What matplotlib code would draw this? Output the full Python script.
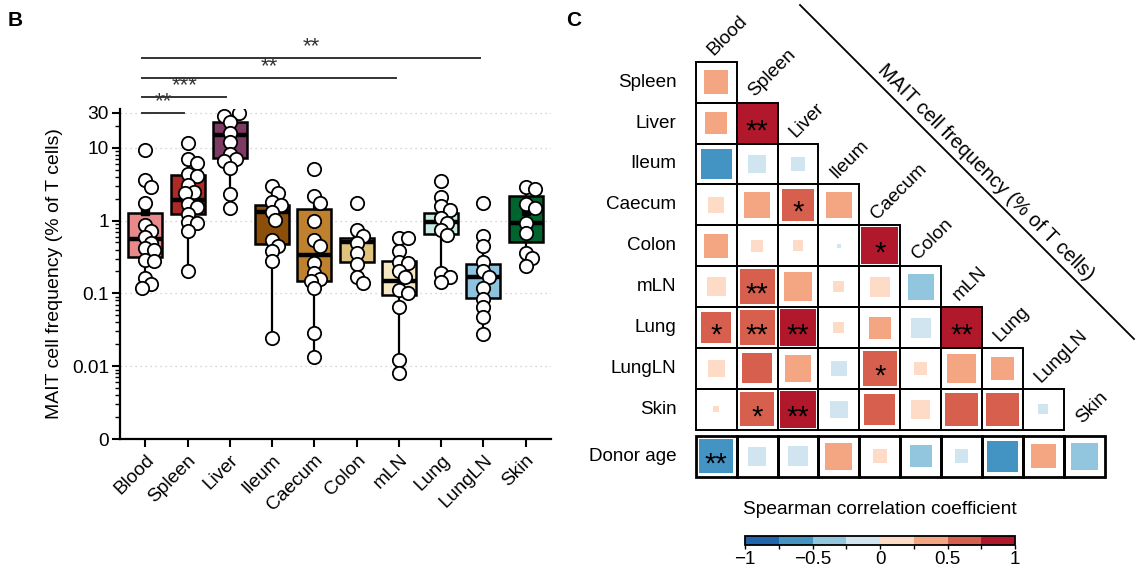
import numpy as np
import matplotlib
matplotlib.use("Agg")
import matplotlib.pyplot as plt
from matplotlib.patches import Rectangle
from matplotlib.colors import ListedColormap, BoundaryNorm
from matplotlib.ticker import LogLocator, NullFormatter, FixedLocator
import matplotlib.colorbar as mcolorbar

plt.rcParams['font.family'] = ['Liberation Sans', 'DejaVu Sans']

# ---------------- data: panel B ----------------
categories = ['Blood', 'Spleen', 'Liver', 'Ileum', 'Caecum', 'Colon', 'mLN', 'Lung', 'LungLN', 'Skin']
box_colors = ['#E8898B', '#AD2A26', '#7D3A62', '#8C4F0B', '#BF812D', '#DFC27D',
              '#F6E8C3', '#C7EAE5', '#8EC3E0', '#00642F']

blood = [9.3, 3.6, 2.9, 1.75, 0.88, 0.71, 0.6, 0.49, 0.42, 0.39, 0.29, 0.28, 0.16, 0.136, 0.12]
spleen = [11.7, 7.1, 6.2, 4.4, 4.1, 3.1, 2.5, 2.4, 1.66, 1.55, 1.21, 0.95, 0.93, 0.71, 0.205]
liver = [33, 30, 27, 22.5, 16, 11.9, 8.1, 6.9, 6.6, 5.3, 2.3, 1.48]
ileum = [2.97, 2.4, 1.79, 1.61, 1.3, 1.03, 0.54, 0.45, 0.38, 0.275, 0.024]
caecum = [5.1, 2.16, 1.75, 0.98, 0.54, 0.45, 0.26, 0.19, 0.155, 0.15, 0.12, 0.029, 0.0133]
colon = [1.75, 0.75, 0.62, 0.49, 0.36, 0.25, 0.17, 0.14]
mln = [0.58, 0.57, 0.38, 0.27, 0.26, 0.2, 0.17, 0.112, 0.1, 0.064, 0.0122, 0.008]
lung = [3.5, 2.1, 1.57, 1.4, 1.1, 0.93, 0.75, 0.64, 0.19, 0.17, 0.145]
lungln = [1.75, 0.61, 0.44, 0.27, 0.2, 0.17, 0.119, 0.084, 0.064, 0.047, 0.028]
skin = [2.9, 2.7, 1.66, 1.5, 0.93, 0.68, 0.36, 0.31, 0.24]
points = [blood, spleen, liver, ileum, caecum, colon, mln, lung, lungln, skin]

q1 = [0.32, 1.21, 7.2, 0.47, 0.15, 0.27, 0.096, 0.66, 0.085, 0.5]
medians = [0.55, 1.9, 14.9, 1.3, 0.34, 0.50, 0.15, 0.95, 0.17, 0.93]
q3 = [1.25, 4.2, 22.8, 1.61, 1.45, 0.57, 0.28, 1.25, 0.254, 2.16]
means = [1.34, 3.2, 16.1, 1.25, 0.98, 0.55, 0.21, 1.05, 0.28, 1.34]

# significance brackets (from Blood to target)
sig_targets = ['Spleen', 'Liver', 'mLN', 'LungLN']
sig_labels = ['**', '***', '**', '**']
sig_heights = [30, 50, 92, 170]

ytick_vals = [0.001, 0.01, 0.1, 1, 10, 30]
ytick_labels = ['0', '0.01', '0.1', '1', '10', '30']

# ---------------- data: panel C ----------------
corr_rows = [
    [0.35],
    [0.28, 0.92],
    [-0.57, -0.18, -0.12],
    [0.15, 0.40, 0.62, 0.42],
    [0.35, 0.09, 0.07, -0.01, 0.83],
    [0.22, 0.73, 0.48, 0.07, 0.24, -0.41],
    [0.56, 0.73, 0.81, 0.07, 0.29, -0.24, 0.90],
    [0.17, 0.54, 0.41, -0.15, 0.70, 0.11, 0.48, 0.32],
    [0.02, 0.68, 0.81, -0.18, 0.59, 0.22, 0.64, 0.65, -0.06],
]
sig_rows = [
    [''],
    ['', '**'],
    ['', '', ''],
    ['', '', '*', ''],
    ['', '', '', '', '*'],
    ['', '**', '', '', '', ''],
    ['*', '**', '**', '', '', '', '**'],
    ['', '', '', '', '*', '', '', ''],
    ['', '*', '**', '', '', '', '', '', ''],
]
donor_age = [-0.68, -0.21, -0.24, 0.43, 0.12, -0.29, -0.11, -0.56, 0.36, -0.45]
donor_sig = ['**', '', '', '', '', '', '', '', '', '']

rdbu8 = ['#2166ac', '#4393c3', '#92c5de', '#d1e5f0', '#fddbc7', '#f4a582', '#d6604d', '#b2182b']
cbar_bounds = [-1, -0.75, -0.5, -0.25, 0, 0.25, 0.5, 0.75, 1]
cbar_ticks = [-1, -0.5, 0, 0.5, 1]

# ---------------- figure ----------------
W, H = 1140, 576
fig = plt.figure(figsize=(W / 100, H / 100), dpi=100)

def fx(px):
    return px / W

def fy(py):
    return 1 - py / H

# ---------- Panel B ----------
ax = fig.add_axes([fx(120), fy(439), (551 - 120) / W, (439 - 109) / H])
ax.set_yscale('log')
ax.set_ylim(0.001, 34)
ax.set_xlim(-0.6, 9.6)
pos = np.arange(len(categories))

for v in [0.01, 0.1, 1, 10, 30]:
    ax.axhline(v, color='#c8c8c8', lw=0.9, ls=(0, (1, 3)), zorder=0)

stats = []
for i in range(len(categories)):
    iqr = q3[i] - q1[i]
    vals = np.array(points[i])
    lo_f = q1[i] - 1.5 * iqr
    hi_f = q3[i] + 1.5 * iqr
    inside = vals[(vals >= lo_f) & (vals <= hi_f)]
    stats.append(dict(med=medians[i], q1=q1[i], q3=q3[i],
                      whislo=min(inside.min(), q1[i]), whishi=max(inside.max(), q3[i]),
                      mean=means[i], fliers=[]))

bp = ax.bxp(stats, positions=pos, widths=0.8, patch_artist=True, showcaps=False,
            showfliers=False, showmeans=False,
            boxprops=dict(edgecolor='black', linewidth=1.8),
            medianprops=dict(color='black', linewidth=3.2, solid_capstyle='butt'),
            whiskerprops=dict(color='black', linewidth=1.6))
for patch, c in zip(bp['boxes'], box_colors):
    patch.set_facecolor(c)
    patch.set_zorder(2)
for m in bp['medians']:
    m.set_zorder(3)
for w in bp['whiskers']:
    w.set_zorder(1.5)

ax.plot(pos, means, ls='none', marker='s', ms=5.5, color='black', zorder=3.5)

# simple beeswarm layout in pixel units
xscale = 42.3
yscale = 72.8
diam = 13.0
for i, vals in enumerate(points):
    placed = []
    offs = {}
    order = np.argsort(vals)[::-1]
    for idx in order:
        yp = np.log10(vals[idx]) * yscale
        chosen = 0.0
        for k in [0, 1, -1, 2, -2, 3, -3, 4, -4, 5, -5]:
            xp = k * 3.0
            if all(np.hypot(xp - a, yp - b) >= diam * 0.58 for a, b in placed):
                chosen = xp
                break
        placed.append((chosen, yp))
        offs[idx] = chosen / xscale
    xs = [i + offs[k] for k in range(len(vals))]
    ax.plot(xs, vals, ls='none', marker='o', ms=9.6, mfc='white', mec='black',
            mew=1.3, zorder=4)

ax.set_yticks(ytick_vals)
ax.set_yticklabels(ytick_labels)
ax.yaxis.set_minor_locator(LogLocator(base=10, subs=np.arange(2, 10), numticks=20))
ax.yaxis.set_minor_formatter(NullFormatter())
ax.set_xticks(pos)
ax.set_xticklabels(categories, rotation=45, ha='right', rotation_mode='anchor')
ax.tick_params(axis='both', which='major', labelsize=13.8, length=6, width=1.5, color='black')
ax.tick_params(axis='y', which='minor', length=3.5, width=1.0)
ax.tick_params(axis='x', pad=3)
ax.tick_params(axis='y', pad=2)
for s in ['top', 'right']:
    ax.spines[s].set_visible(False)
for s in ['left', 'bottom']:
    ax.spines[s].set_linewidth(1.6)
ax.set_ylabel('MAIT cell frequency (% of T cells)', fontsize=14, labelpad=6)

for tgt, lab, h in zip(sig_targets, sig_labels, sig_heights):
    j = categories.index(tgt)
    x0, x1 = -0.07, j - 0.08
    ax.plot([x0, x1], [h, h], color='#333333', lw=1.4, clip_on=False, zorder=5)
    ax.text((x0 + x1) / 2, h * 1.02, lab, ha='center', va='bottom', fontsize=16,
            color='#333333', clip_on=False)

fig.text(fx(8), fy(20), 'B', fontsize=15, fontweight='bold', va='center', ha='left')

# ---------- Panel C ----------
cell = 40.9
gx0, gy0 = 695.7, 61.7
donor_y = 9.146
ax2 = fig.add_axes([fx(gx0), fy(gy0 + (donor_y + 1) * cell), 10 * cell / W, (donor_y + 1) * cell / H])
ax2.set_xlim(0, 10)
ax2.set_ylim(donor_y + 1, 0)
ax2.axis('off')

cmap = ListedColormap(rdbu8)
norm = BoundaryNorm(cbar_bounds, cmap.N)

def draw_cell(j, y, r, sig, lw):
    s = np.sqrt(abs(r))
    ax2.add_patch(Rectangle((j + 0.5 - s / 2, y + 0.5 - s / 2), s, s,
                            facecolor=cmap(norm(r)), edgecolor='none', zorder=1, clip_on=False))
    ax2.add_patch(Rectangle((j, y), 1, 1, fill=False, edgecolor='black', lw=lw, zorder=2,
                            clip_on=False))
    if sig:
        ax2.text(j + 0.5, y + 0.70, sig, ha='center', va='center', fontsize=21,
                 color='black', zorder=3, clip_on=False)

for i, row in enumerate(corr_rows):
    for j, r in enumerate(row):
        draw_cell(j, i, r, sig_rows[i][j], 1.4)
    ax2.text(-0.47, i + 0.5, categories[i + 1], ha='right', va='center', fontsize=13.6)

for j, r in enumerate(donor_age):
    draw_cell(j, donor_y, r, donor_sig[j], 2.0)
ax2.text(-0.47, donor_y + 0.5, 'Donor age', ha='right', va='center', fontsize=13.6)

for j, name in enumerate(categories):
    ax2.text(j + 0.5 - 0.06, j - 0.14, name, rotation=45, rotation_mode='anchor',
             ha='left', va='baseline', fontsize=13.8, clip_on=False)

# diagonal line and its label
def to_d(px, py):
    return (px - gx0) / cell, (py - gy0) / cell

lx0, ly0 = to_d(800, 5)
lx1, ly1 = to_d(1134, 339)
ax2.plot([lx0, lx1], [ly0, ly1], color='black', lw=1.3, clip_on=False)
tx, ty = to_d(986, 172)
ax2.text(tx, ty, 'MAIT cell frequency (% of T cells)', rotation=-45, rotation_mode='anchor',
         ha='center', va='center', fontsize=14.3, clip_on=False)

fig.text(fx(566), fy(20), 'C', fontsize=15, fontweight='bold', va='center', ha='left')

# colorbar
cax = fig.add_axes([fx(745), fy(545), 270 / W, 9.3 / H])
cb = mcolorbar.ColorbarBase(cax, cmap=cmap, norm=norm, orientation='horizontal',
                            boundaries=cbar_bounds, ticks=cbar_ticks)
cb.outline.set_linewidth(1.3)
cb.set_ticklabels(['\u22121', '\u22120.5', '0', '0.5', '1'])
cax.xaxis.set_minor_locator(FixedLocator([-0.75, -0.25, 0.25, 0.75]))
cax.tick_params(axis='x', which='major', length=3, width=1, labelsize=13.6, pad=1)
cax.tick_params(axis='x', which='minor', length=3, width=1)
fig.text(fx(880), fy(509), 'Spearman correlation coefficient', ha='center', va='center',
         fontsize=13.8)

fig.savefig('out.png', dpi=100)
